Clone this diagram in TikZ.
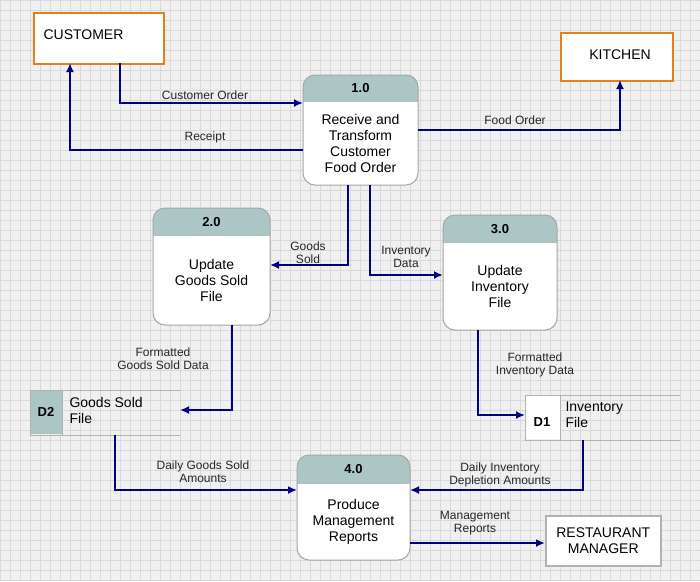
\documentclass[tikz,border=0pt]{standalone}
\usepackage{fontspec}
\setmainfont{Liberation Sans}
\usetikzlibrary{arrows.meta}
\begin{document}
\begin{tikzpicture}[x=1pt,y=-1pt,
  ent/.style={draw=orange!60!brown,line width=1.5pt,fill=white},
  proc/.style={draw=gray!70,line width=1pt,rounded corners=12pt,fill=white},
  hdr/.style={fill=teal!45!gray!45},
  flow/.style={draw=blue!50!black,line width=2pt,-{Latex[length=9pt,width=8pt]}},
  lbl/.style={font=\fontsize{12}{13}\selectfont,align=center,text=black!85},
  ptxt/.style={font=\fontsize{14}{16}\selectfont,align=center},
  st/.style={draw=gray!60,line width=0.8pt,fill=gray!8}]
\useasboundingbox (0,0) rectangle (700,581);
\fill[gray!12] (0,0) rectangle (700,581);
\draw[gray!30,step=10pt] (0,0) grid (700,581);
% entities
\node[ent,minimum width=130pt,minimum height=51pt,anchor=north west] (cust) at (33,12) {};
\node[font=\fontsize{14}{16}\selectfont,anchor=north west] at (40,26) {CUSTOMER};
\node[ent,minimum width=112pt,minimum height=48pt,anchor=north west] (kit) at (560,32) {};
\node[font=\fontsize{14}{16}\selectfont] at (620,55) {KITCHEN};
\node[ent,draw=gray!60,minimum width=115pt,minimum height=50pt,anchor=north west,ptxt] (rm) at (545,515) {RESTAURANT\\MANAGER};
% processes
\newcommand{\proc}[7]{%
 \begin{scope}
 \clip[rounded corners=12pt] (#2,#3) rectangle (#4,#5);
 \fill[white] (#2,#3) rectangle (#4,#5);
 \fill[hdr] (#2,#3) rectangle (#4,#6);
 \end{scope}
 \draw[proc,fill=none] (#2,#3) rectangle (#4,#5);
 \node[font=\bfseries\fontsize{13}{14}\selectfont] at ({(#2+#4)/2},{(#3+#6)/2}) {#1};
 \node[ptxt] at ({(#2+#4)/2},{(#6+#5)/2}) {#7};}
\proc{1.0}{303}{75}{418}{185}{102}{Receive and\\Transform\\Customer\\Food Order}
\proc{2.0}{153}{208}{270}{325}{236}{Update\\Goods Sold\\File}
\proc{3.0}{443}{215}{557}{330}{243}{Update\\Inventory\\File}
\proc{4.0}{297}{455}{410}{560}{484}{Produce\\Management\\Reports}
% stores
\draw[st] (30,390) -- (180,390) (30,435) -- (180,435) (30,390) -- (30,435);
\fill[hdr] (31,391) rectangle (62,434); \draw[gray!60] (62,390)--(62,435);
\node[font=\bfseries\fontsize{13}{14}\selectfont] at (46,412) {D2};
\node[ptxt,align=left,anchor=west] (d2) at (66,410) {Goods Sold\\File};
\draw[st] (525,395) -- (680,395) (525,440) -- (680,440) (525,395) -- (525,440);
\fill[white] (526,396) rectangle (560,439); \draw[gray!60] (560,395)--(560,440);
\node[font=\bfseries\fontsize{13}{14}\selectfont] at (542,422) {D1};
\node[ptxt,align=left,anchor=west] (d1) at (562,415) {Inventory\\File};
% flows
\draw[flow] (120,63) -- (120,103) -- (303,103);
\node[lbl] at (205,95) {Customer Order};
\draw[flow] (303,150) -- (70,150) -- (70,63);
\node[lbl] at (205,137) {Receipt};
\draw[flow] (418,130) -- (620,130) -- (620,80);
\node[lbl] at (515,120) {Food Order};
\draw[flow] (348,185) -- (348,265) -- (270,265);
\node[lbl] at (308,253) {Goods\\Sold};
\draw[flow] (370,185) -- (370,275) -- (443,275);
\node[lbl] at (406,257) {Inventory\\Data};
\draw[flow] (232,325) -- (232,410) -- (180,410);
\node[lbl] at (163,359) {Formatted\\Goods Sold Data};
\draw[flow] (478,330) -- (478,415) -- (525,415);
\node[lbl] at (535,365) {Formatted\\Inventory Data};
\draw[flow] (115,435) -- (115,490) -- (297,490);
\node[lbl] at (203,472) {Daily Goods Sold\\Amounts};
\draw[flow] (583,440) -- (583,490) -- (410,490);
\node[lbl] at (500,475) {Daily Inventory\\Depletion Amounts};
\draw[flow] (410,543) -- (545,543);
\node[lbl] at (475,523) {Management\\Reports};
\end{tikzpicture}
\end{document}
